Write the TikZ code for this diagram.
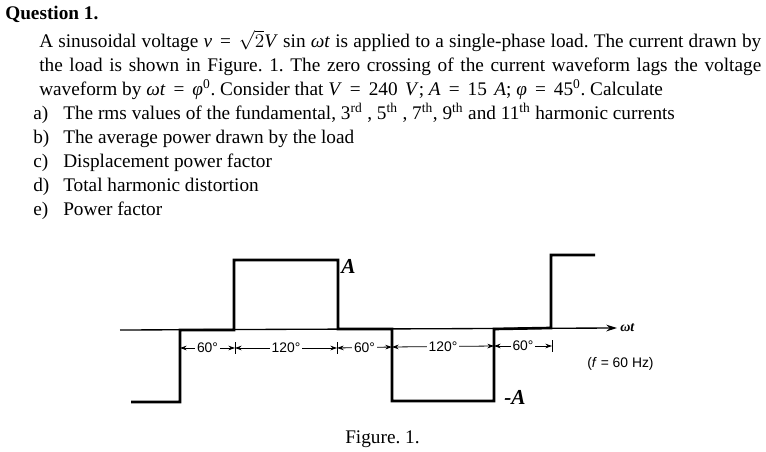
\documentclass[tikz,border=0pt]{standalone}
\usepackage{amsmath}
\usepackage{amssymb}
\usepackage{fontspec}
\usetikzlibrary{arrows.meta}
\setmainfont{Liberation Serif}
\newfontfamily\labelfont{Liberation Sans}
\tikzset{
  txt/.style={anchor=base west,inner sep=0pt,font=\fontsize{14.45pt}{17pt}\selectfont\frenchspacing},
  wave/.style={line width=2pt,black},
  dimline/.style={line width=0.6pt,black,{Stealth[length=5pt,width=3.5pt]}-{Stealth[length=5pt,width=3.5pt]}},
  endtick/.style={line width=0.6pt,black},
  deg/.style={fill=white,inner sep=1.5pt,font=\labelfont\fontsize{10.4pt}{12pt}\selectfont},
  level/.style={anchor=base west,inner sep=0pt,font=\fontsize{16pt}{18pt}\selectfont\bfseries\itshape},
}
\newcommand{\fullline}[1]{\makebox[541.5pt][s]{#1}}
\newcommand{\itemlabel}[1]{\makebox[22.5pt][l]{#1}}
\newcommand{\eqs}{\hspace{6pt}=\hspace{6pt}}
\begin{document}
\begin{tikzpicture}[x=0.75pt,y=-0.75pt]
\useasboundingbox (0,0) rectangle (766,452);

% question text
\node[txt,font=\fontsize{14.45pt}{17pt}\selectfont\bfseries] (title) at (5,19.5) {Question 1.};
\node[txt] (line1) at (39,47.5) {\fullline{A sinusoidal voltage \textit{v}\eqs$\sqrt{2}$\textit{V} sin \textit{ωt} is applied to a single-phase load. The current drawn by}};
\node[txt] (line2) at (39,71.5) {\fullline{the load is shown in Figure. 1. The zero crossing of the current waveform lags the voltage}};
\node[txt] (line3) at (39,95.5) {waveform by \textit{ωt}\eqs\textit{φ}$^{\text{0}}$. Consider that \textit{V}\eqs{}240\hspace{2pt} \textit{V}; \textit{A}\eqs{}15\hspace{2pt} \textit{A}; \textit{φ}\eqs{}45$^{\text{0}}$. Calculate};
\node[txt] (itema) at (33,119.5) {\itemlabel{a)}The rms values of the fundamental, 3\textsuperscript{rd} , 5\textsuperscript{th} , 7\textsuperscript{th}, 9\textsuperscript{th} and 11\textsuperscript{th} harmonic currents};
\node[txt] (itemb) at (33,143.5) {\itemlabel{b)}The average power drawn by the load};
\node[txt] (itemc) at (33,167.5) {\itemlabel{c)}Displacement power factor};
\node[txt] (itemd) at (33,191) {\itemlabel{d)}Total harmonic distortion};
\node[txt] (iteme) at (33,215) {\itemlabel{e)}Power factor};

% axis
\coordinate (axisL) at (120,330);
\coordinate (axisR) at (617,328);
\draw[line width=1pt,black,-{Stealth[length=8pt,width=5pt]}] (axisL) -- (axisR);
\node[anchor=base west,inner sep=0pt,font=\fontsize{10.5pt}{12pt}\selectfont\bfseries\itshape] (wt) at (620,331) {ωt};

% current waveform
\draw[wave] (131,402) -- (180,402) -- (180,330) -- (234,330) -- (234,260) -- (338,260) -- (338,329)
  -- (392,329) -- (392,401) -- (494,401) -- (494,329) -- (551,328) -- (551,255) -- (595,255);

% angle dimensions
\coordinate (d0) at (180,348);
\coordinate (d1) at (235,348);
\coordinate (d2) at (337,348);
\coordinate (d3) at (392,347);
\coordinate (d4) at (494,346);
\coordinate (d5) at (552,346);
\draw[dimline] (d0) -- node[deg]{60°} (d1);
\draw[dimline] (d1) -- node[deg]{120°} (d2);
\draw[dimline] (d2) -- node[deg]{60°} (d3);
\draw[dimline] (d3) -- node[deg]{120°} (d4);
\draw[dimline] (d4) -- node[deg]{60°} (d5);
\draw[endtick] (d1) ++(0,-6) -- ++(0,12);
\draw[endtick] (d2) ++(0,-6) -- ++(0,12);
\draw[endtick] (d5) ++(0,-6) -- ++(0,12);

% level labels
\node[level] (top) at (341,273) {A};
\node[level] (bottom) at (504,404) {-A};
\node[anchor=base west,inner sep=0pt,font=\labelfont\fontsize{10.4pt}{12pt}\selectfont] (freq) at (587,367) {(\textit{f} = 60 Hz)};
\node[txt] (caption) at (345,443) {Figure. 1.};
\end{tikzpicture}
\end{document}
